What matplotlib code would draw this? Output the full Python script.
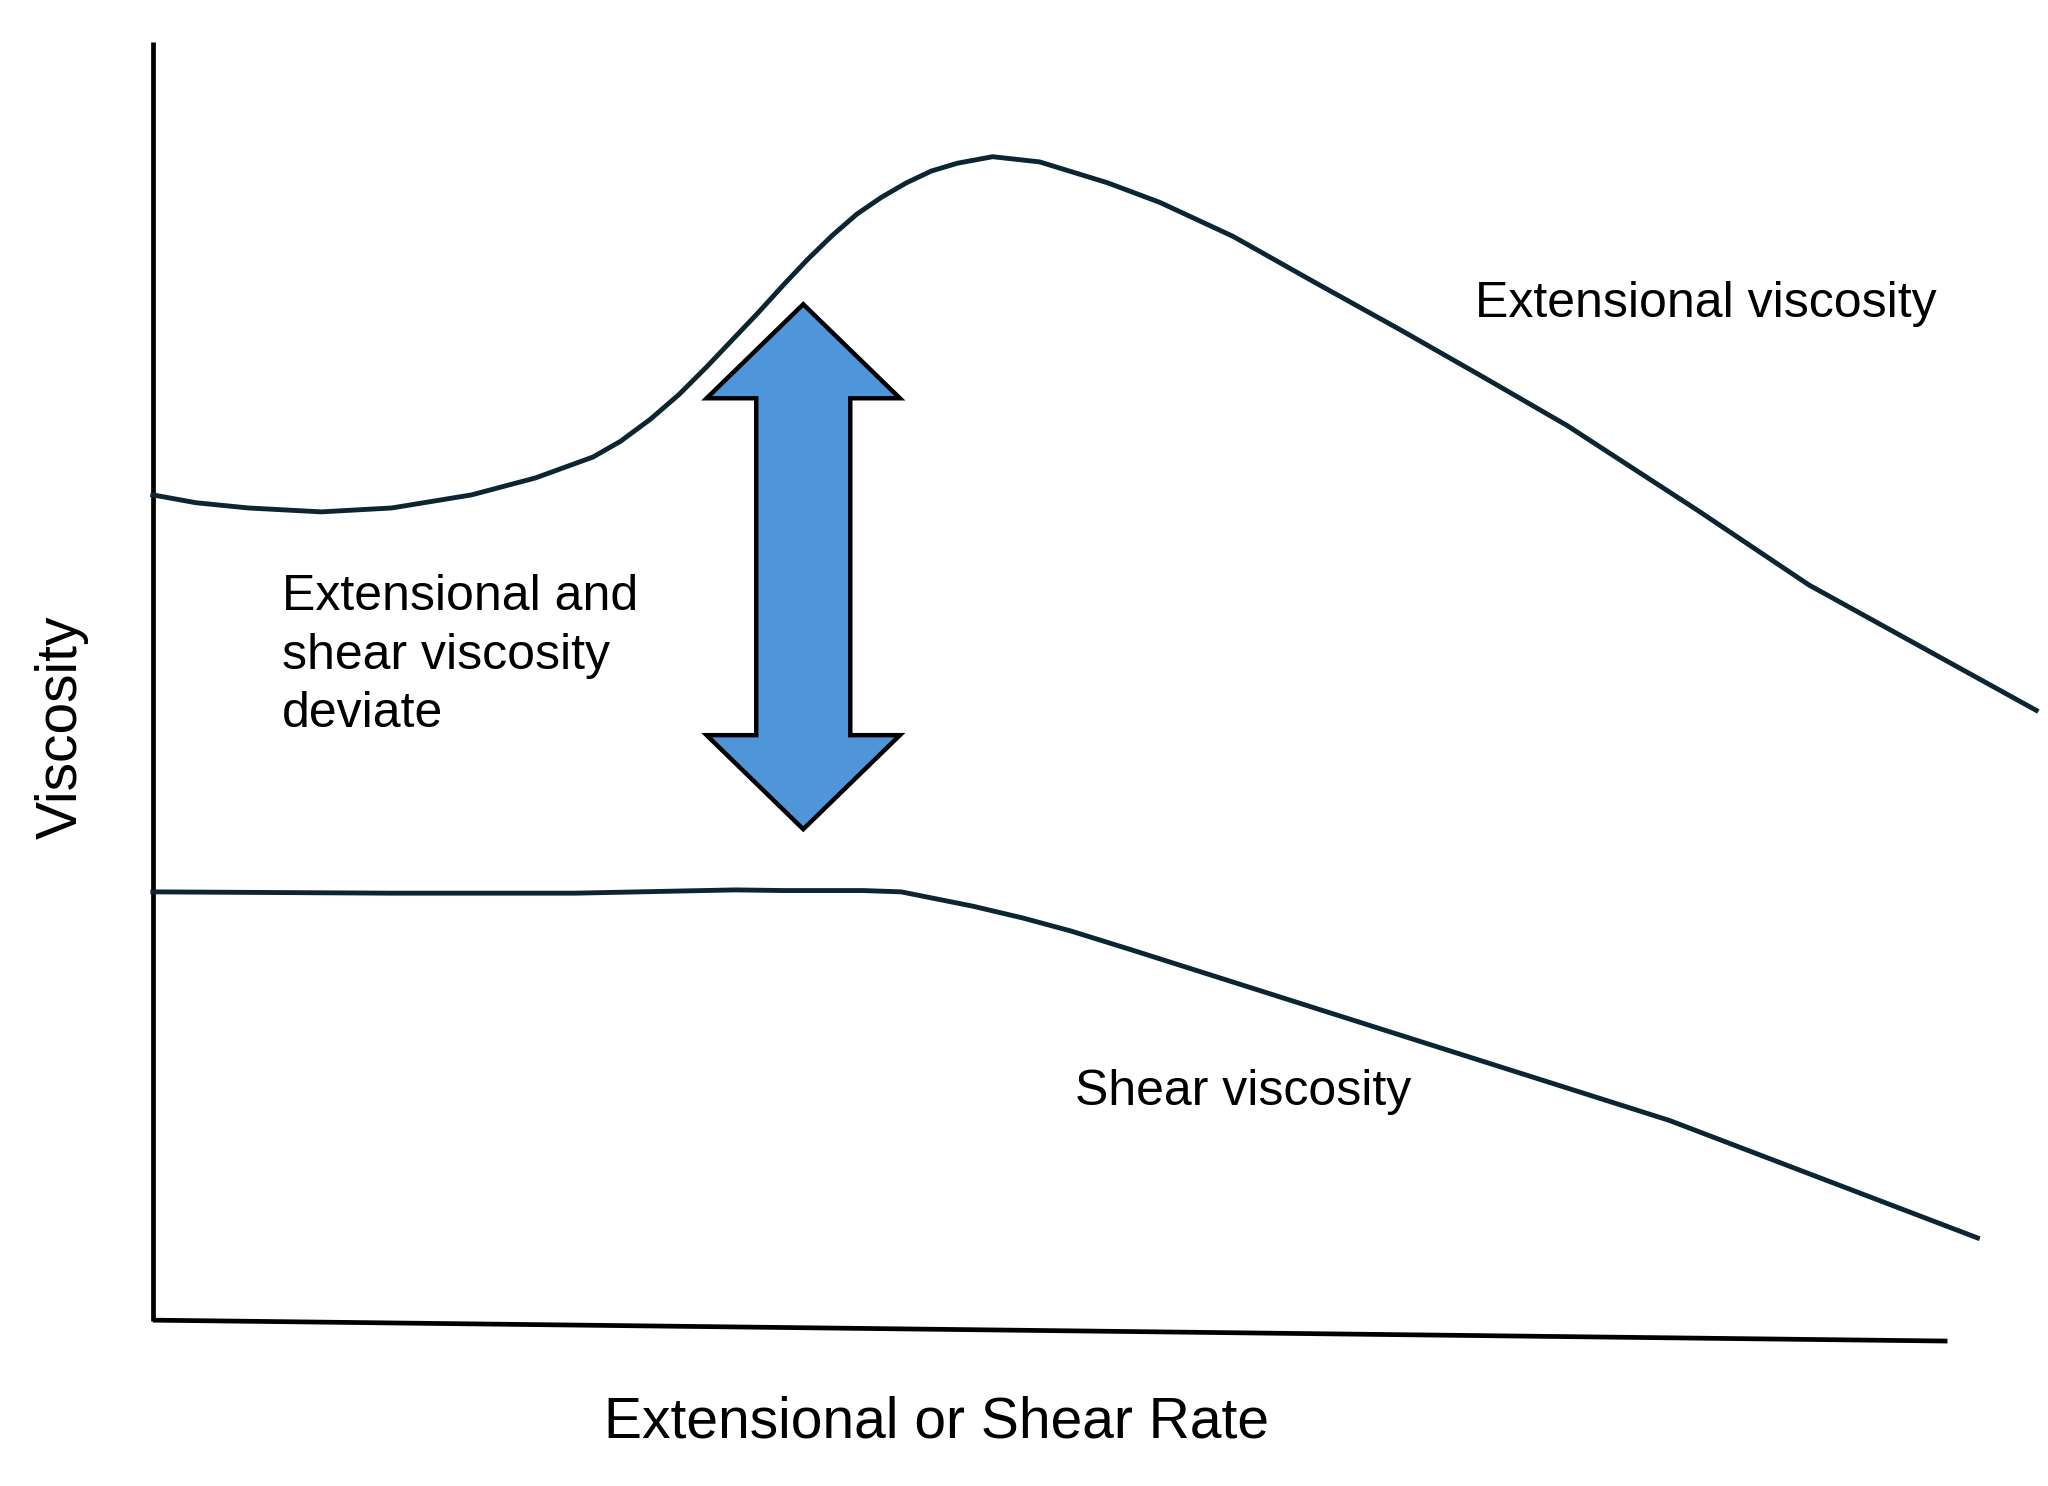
import matplotlib
matplotlib.use("Agg")
from matplotlib import pyplot as plt
from matplotlib.patches import Polygon

plt.rcParams['font.family'] = ['Liberation Sans', 'DejaVu Sans']

# curves (drawing units, y grows downward)
ext_x = [117, 150, 190, 246, 300, 361, 410, 454, 475, 498, 520, 541, 560, 580,
         600, 618, 637, 656, 675, 694, 713, 733, 760, 796, 848, 888, 944, 1008,
         1072, 1136, 1200, 1300, 1385, 1472, 1559]
ext_y = [379, 385, 389, 392, 389, 379, 366, 350, 338, 321, 302, 281, 261, 240,
         218, 199, 180.5, 164, 151, 140, 131, 125, 120, 124, 140, 155, 181, 217,
         252.5, 289, 326, 391, 448, 496, 544]

shear_x = [117, 300, 440, 563, 600, 661, 690, 705, 745, 783, 820, 865, 1073, 1278, 1514]
shear_y = [683, 684, 684, 681.5, 682, 682, 683, 686, 694, 703, 713, 727, 793, 858, 948]

# axes drawn as free lines, like the original sketch
yaxis_x = [117, 117]
yaxis_y = [32, 1012]
xaxis_x = [117, 1491]
xaxis_y = [1011, 1027]

# double arrow: centre, tips
arrow_cx = 615
arrow_top = 233
arrow_bottom = 635

ext_label = "Extensional viscosity"
shear_label = "Shear viscosity"
gap_label = "Extensional and\nshear viscosity\ndeviate"
x_title = "Extensional or Shear Rate"
y_title = "Viscosity"

line_col = '#0b2533'

fig = plt.figure(figsize=(20.48, 14.86), dpi=100)
ax = fig.add_axes([0, 0, 1, 1])
ax.set_xlim(0, 1568)
ax.set_ylim(1138, 0)
ax.axis('off')

ax.plot(yaxis_x, yaxis_y, color='black', lw=3.4, solid_capstyle='butt')
ax.plot(xaxis_x, xaxis_y, color='black', lw=3.4, solid_capstyle='butt')

ax.plot(ext_x, ext_y, color=line_col, lw=3.5, solid_joinstyle='round')
ax.plot(shear_x, shear_y, color=line_col, lw=3.5, solid_joinstyle='round')

# arrow outline
head_w = 74
shaft_w = 36
head_h = 72
pts = [
    (arrow_cx, arrow_top),
    (arrow_cx + head_w, arrow_top + head_h),
    (arrow_cx + shaft_w, arrow_top + head_h),
    (arrow_cx + shaft_w, arrow_bottom - head_h),
    (arrow_cx + head_w, arrow_bottom - head_h),
    (arrow_cx, arrow_bottom),
    (arrow_cx - head_w, arrow_bottom - head_h),
    (arrow_cx - shaft_w, arrow_bottom - head_h),
    (arrow_cx - shaft_w, arrow_top + head_h),
    (arrow_cx - head_w, arrow_top + head_h),
]
ax.add_patch(Polygon(pts, closed=True, facecolor='#4f95d9', edgecolor='black',
                     lw=3.2, joinstyle='miter'))

ax.text(1129, 243, ext_label, fontsize=36, ha='left', va='baseline')
ax.text(823, 836, shear_label, fontsize=36, ha='left', va='center')
ax.text(216, 502, gap_label, fontsize=36, ha='left', va='center', linespacing=1.36)
ax.text(717, 1089, x_title, fontsize=41, ha='center', va='center')
ax.text(47, 557, y_title, fontsize=41, ha='center', va='center', rotation=90)

fig.savefig('out.png', dpi=100, facecolor='white')
